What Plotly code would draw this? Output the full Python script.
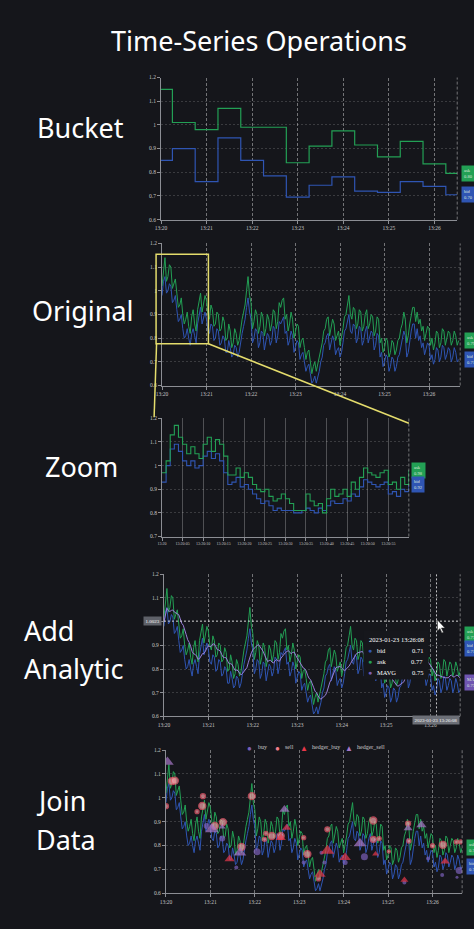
import numpy as np
import pandas as pd
import plotly.graph_objects as go

W, H = 474, 929
BG = '#15161b'
GREEN = '#23a055'
BLUE = '#2f55b3'
MAVG_C = '#9a80d8'
SERIF = 'Liberation Serif'
SANS = 'Noto Sans'
T0 = pd.Timestamp('2023-01-23 13:20:00')

# ---------------- data ----------------
bucket_ask = [1.15, 1.01, 0.98, 1.07, 0.99, 0.99, 0.84, 0.91, 0.975, 0.915, 0.865, 0.93, 0.835, 0.795]
bucket_bid = [0.85, 0.90, 0.76, 0.945, 0.85, 0.785, 0.695, 0.745, 0.78, 0.72, 0.715, 0.76, 0.74, 0.705]

# tick data, one value every 2 s from 13:20:00
ask = [1.02, 1.10, 1.14, 1.04, 1.06, 1.11, 1.10, 1.01, 1.03, 1.05,
       0.99, 0.93, 0.94, 0.97, 0.90, 0.86, 0.88, 0.91, 0.85, 0.82,
       0.89, 0.92, 0.86, 0.83, 0.92, 0.96, 0.99, 0.91, 0.94, 0.98,
       0.96, 0.90, 0.88, 0.94, 0.92, 0.85, 0.86, 0.91, 0.90, 0.83,
       0.84, 0.89, 0.87, 0.79, 0.80, 0.86, 0.83, 0.76, 0.78, 0.84,
       0.82, 0.77, 0.79, 0.85, 0.88, 0.91, 0.94, 1.00, 1.06, 0.98,
       0.95, 0.84, 0.87, 0.92, 0.90, 0.82, 0.85, 0.91, 0.89, 0.81,
       0.84, 0.90, 0.88, 0.83, 0.86, 0.92, 0.91, 0.84, 0.87, 0.95,
       0.93, 0.96, 0.97, 0.88, 0.90, 0.83, 0.86, 0.91, 0.88, 0.80,
       0.83, 0.86, 0.85, 0.76, 0.79, 0.80, 0.76, 0.71, 0.74, 0.75,
       0.70, 0.65, 0.68, 0.70, 0.66, 0.69, 0.72, 0.76, 0.78, 0.83,
       0.84, 0.88, 0.89, 0.81, 0.84, 0.88, 0.86, 0.79, 0.81, 0.83,
       0.77, 0.80, 0.84, 0.89, 0.90, 0.94, 0.98, 0.90, 0.88, 0.93,
       0.92, 0.84, 0.86, 0.92, 0.91, 0.83, 0.85, 0.90, 0.92, 0.84,
       0.86, 0.90, 0.89, 0.81, 0.83, 0.89, 0.88, 0.78, 0.80, 0.74,
       0.76, 0.80, 0.79, 0.72, 0.74, 0.79, 0.78, 0.73, 0.75, 0.79,
       0.80, 0.84, 0.86, 0.91, 0.88, 0.78, 0.81, 0.86, 0.90, 0.93,
       0.93, 0.87, 0.91, 0.86, 0.88, 0.83, 0.85, 0.79, 0.82, 0.85,
       0.84, 0.77, 0.80, 0.75, 0.78, 0.83, 0.82, 0.76, 0.78, 0.84,
       0.83, 0.77, 0.80, 0.83, 0.82, 0.77, 0.79, 0.83, 0.81, 0.77,
       0.79]
bid = [0.98, 1.04, 1.06, 0.99, 1.00, 1.03, 1.02, 0.95, 0.96, 0.98,
       0.92, 0.87, 0.88, 0.90, 0.84, 0.80, 0.81, 0.84, 0.80, 0.77,
       0.82, 0.84, 0.81, 0.78, 0.86, 0.90, 0.93, 0.86, 0.89, 0.91,
       0.88, 0.83, 0.82, 0.86, 0.85, 0.79, 0.80, 0.84, 0.83, 0.77,
       0.78, 0.81, 0.80, 0.74, 0.74, 0.79, 0.76, 0.72, 0.73, 0.77,
       0.76, 0.72, 0.74, 0.79, 0.82, 0.85, 0.88, 0.93, 0.97, 0.91,
       0.88, 0.78, 0.80, 0.84, 0.83, 0.76, 0.78, 0.83, 0.82, 0.75,
       0.78, 0.82, 0.81, 0.77, 0.79, 0.85, 0.84, 0.78, 0.81, 0.87,
       0.86, 0.88, 0.89, 0.82, 0.83, 0.77, 0.79, 0.83, 0.81, 0.74,
       0.77, 0.79, 0.78, 0.71, 0.73, 0.74, 0.70, 0.66, 0.68, 0.69,
       0.65, 0.61, 0.62, 0.64, 0.61, 0.63, 0.66, 0.70, 0.72, 0.77,
       0.78, 0.81, 0.82, 0.75, 0.78, 0.81, 0.79, 0.73, 0.75, 0.76,
       0.72, 0.74, 0.78, 0.83, 0.84, 0.87, 0.90, 0.83, 0.82, 0.86,
       0.85, 0.78, 0.80, 0.85, 0.84, 0.77, 0.79, 0.83, 0.85, 0.78,
       0.80, 0.83, 0.82, 0.75, 0.77, 0.82, 0.81, 0.72, 0.74, 0.68,
       0.70, 0.73, 0.72, 0.66, 0.68, 0.72, 0.71, 0.66, 0.68, 0.72,
       0.73, 0.77, 0.79, 0.83, 0.81, 0.72, 0.74, 0.79, 0.83, 0.86,
       0.86, 0.80, 0.84, 0.79, 0.81, 0.76, 0.78, 0.73, 0.75, 0.78,
       0.77, 0.71, 0.73, 0.69, 0.71, 0.76, 0.75, 0.70, 0.72, 0.77,
       0.76, 0.71, 0.73, 0.76, 0.75, 0.70, 0.72, 0.76, 0.74, 0.70,
       0.71]

zoom_ask = [0.97, 1.02, 1.13, 1.17, 1.12, 1.09, 1.05, 1.08, 1.05, 1.03, 1.09, 1.12, 1.06, 1.11, 1.09,
            1.04, 0.96, 0.96, 0.99, 0.95, 0.97, 0.95, 0.92, 0.90, 0.89, 0.90, 0.87, 0.85, 0.86, 0.88,
            0.86, 0.84, 0.81, 0.81, 0.81, 0.88, 0.85, 0.83, 0.84, 0.80, 0.86, 0.90, 0.87, 0.88, 0.90,
            0.87, 0.93, 0.90, 0.95, 0.99, 0.97, 0.96, 0.95, 0.97, 0.98, 0.92, 0.93, 0.90, 0.95, 0.92, 0.98]
zoom_bid = [0.93, 1.00, 1.07, 1.09, 1.06, 1.02, 1.00, 1.02, 0.99, 1.00, 1.04, 1.06, 1.03, 1.05, 1.02,
            0.97, 0.92, 0.93, 0.95, 0.91, 0.92, 0.90, 0.88, 0.86, 0.84, 0.85, 0.83, 0.81, 0.82, 0.81,
            0.81, 0.81, 0.80, 0.80, 0.81, 0.82, 0.81, 0.80, 0.82, 0.81, 0.83, 0.85, 0.84, 0.84, 0.86,
            0.85, 0.88, 0.87, 0.91, 0.94, 0.93, 0.92, 0.91, 0.92, 0.93, 0.88, 0.89, 0.87, 0.90, 0.89, 0.92]
zoom_tick_labels = ['13:20', '13:20:05', '13:20:10', '13:20:15', '13:20:20', '13:20:25', '13:20:30',
                    '13:20:35', '13:20:40', '13:20:45', '13:20:50', '13:20:55']

# join data (seconds after 13:20:00, price, size)
buy_t = [55, 76, 95, 123, 186, 210, 214, 242, 268, 322, 354, 373, 393, 396]
buy_v = [0.882, 0.829, 0.708, 0.774, 0.729, 0.77, 0.729, 0.729, 0.753, 0.645, 0.746, 0.676, 0.667, 0.695]
buy_s = [6, 6, 4, 7, 4, 4, 4, 5, 7, 4, 4, 4, 3, 7]
sell_t = [0, 8, 12, 42, 49, 50, 66, 77, 102, 116, 133, 135, 143, 155, 186, 191, 206, 218, 280, 280,
          288, 301, 327, 328, 360, 374, 392, 398]
sell_v = [0.965, 1.07, 1.072, 0.942, 0.966, 1.007, 0.882, 0.898, 0.794, 1.007, 0.826, 0.851, 0.84, 0.84,
          0.833, 0.764, 0.66, 0.868, 0.905, 0.826, 0.829, 0.775, 0.892, 0.819, 0.799, 0.803, 0.815, 0.815]
sell_s = [5, 7, 7, 4, 7, 5, 7, 7, 7, 7, 4, 4, 7, 7, 4, 7, 4, 5, 7, 6, 4, 3, 5, 4, 4, 7, 4, 4]
hbuy_t = [86, 155, 163, 208, 218, 242, 283, 322, 377]
hbuy_v = [0.743, 0.833, 0.875, 0.68, 0.778, 0.75, 0.764, 0.655, 0.733]
hbuy_s = [9, 9, 8, 10, 12, 10, 6, 7, 8]
hsell_t = [2, 62, 76, 100, 160, 262, 327, 345]
hsell_v = [1.15, 0.868, 0.878, 0.77, 0.951, 0.808, 0.872, 0.886]
hsell_s = [11, 12, 6, 11, 9, 11, 8, 9]

tooltip_time = '2023-01-23 13:26:08'
tooltip_names = ['bid', 'ask', 'MAVG']
tooltip_values = ['0.71', '0.77', '0.75']
crosshair_value = 1.0023

# ---------------- derived ----------------
bucket_times = pd.date_range(T0, periods=len(bucket_ask), freq='30s')
times = pd.date_range(T0, periods=len(ask), freq='2s')
zoom_times = pd.date_range(T0, periods=len(zoom_ask), freq='1s')
mavg = ((pd.Series(ask) + pd.Series(bid)) / 2).rolling(10, min_periods=1).mean()


def ts(secs):
    return [T0 + pd.Timedelta(seconds=s) for s in secs]


def fx(x):
    return x / W


def fy(y):
    return 1 - y / H


def tstr(s):
    return (T0 + pd.Timedelta(seconds=s)).strftime('%Y-%m-%d %H:%M:%S')


panels = [
    dict(px=(157, 457), py=(75, 218), xr=(0, 390), yr=(0.6, 1.2)),
    dict(px=(158, 460), py=(242, 385), xr=(0, 402), yr=(0.6, 1.2)),
    dict(px=(158, 408), py=(418, 537), xr=(0, 60), yr=(0.7, 1.2)),
    dict(px=(160, 460), py=(575, 718), xr=(0, 400), yr=(0.6, 1.2)),
    dict(px=(162, 462), py=(752, 896), xr=(0, 400), yr=(0.6, 1.2)),
]

fig = go.Figure()
layout = {}
shapes = []
annotations = []
GRIDV = 'rgba(255,255,255,0.40)'

for i, p in enumerate(panels, start=1):
    sx = '' if i == 1 else str(i)
    xa = dict(domain=[fx(p['px'][0]), fx(p['px'][1])], anchor='y' + sx,
              range=[tstr(p['xr'][0]), tstr(p['xr'][1])], type='date',
              showgrid=True, gridcolor=GRIDV, griddash='3px,2px', gridwidth=1,
              showline=True, linecolor='#8c8e94', linewidth=1, ticks='outside', ticklen=3,
              tickcolor='#8c8e94', tickfont=dict(family=SERIF, size=5.5, color='#c4c4c4'),
              zeroline=False, fixedrange=True)
    if i == 3:
        xa.update(tickmode='array', tickvals=pd.date_range(T0, periods=len(zoom_tick_labels), freq='5s'),
                  ticktext=zoom_tick_labels, tickfont=dict(family=SERIF, size=4, color='#c4c4c4'),
                  griddash='solid', gridcolor='rgba(255,255,255,0.25)')
    else:
        xa.update(tick0=tstr(0), dtick=60000, tickformat='%H:%M')
    ya = dict(domain=[fy(p['py'][1]), fy(p['py'][0])], anchor='x' + sx, range=list(p['yr']),
              dtick=0.1, tick0=0.6, showgrid=True, gridcolor='rgba(255,255,255,0.16)', griddash='2px,2px',
              showline=True, linecolor='#8c8e94', linewidth=1, ticks='outside', ticklen=3,
              tickcolor='#8c8e94', tickfont=dict(family=SERIF, size=5.5, color='#c4c4c4'),
              zeroline=False, fixedrange=True)
    layout['xaxis' + sx] = xa
    layout['yaxis' + sx] = ya
    shapes.append(dict(type='line', xref='paper', yref='paper', x0=fx(p['px'][1]), x1=fx(p['px'][1]),
                       y0=fy(p['py'][1]), y1=fy(p['py'][0]),
                       line=dict(color=GRIDV, width=1, dash='3px,2px')))

line_kw = dict(mode='lines', showlegend=False, hoverinfo='skip')

fig.add_trace(go.Scatter(x=bucket_times, y=bucket_bid, line=dict(color=BLUE, width=1.2, shape='hvh'),
                         xaxis='x', yaxis='y', **line_kw))
fig.add_trace(go.Scatter(x=bucket_times, y=bucket_ask, line=dict(color=GREEN, width=1.2, shape='hvh'),
                         xaxis='x', yaxis='y', **line_kw))
for ax in ['2', '4', '5']:
    fig.add_trace(go.Scatter(x=times, y=bid, line=dict(color=BLUE, width=1), xaxis='x' + ax, yaxis='y' + ax,
                             **line_kw))
    fig.add_trace(go.Scatter(x=times, y=ask, line=dict(color=GREEN, width=1), xaxis='x' + ax, yaxis='y' + ax,
                             **line_kw))
    if ax == '4':
        fig.add_trace(go.Scatter(x=times, y=mavg, line=dict(color=MAVG_C, width=1), xaxis='x4', yaxis='y4',
                                 **line_kw))
fig.add_trace(go.Scatter(x=zoom_times, y=zoom_bid, line=dict(color=BLUE, width=1.1, shape='hv'),
                         xaxis='x3', yaxis='y3', **line_kw))
fig.add_trace(go.Scatter(x=zoom_times, y=zoom_ask, line=dict(color=GREEN, width=1.1, shape='hv'),
                         xaxis='x3', yaxis='y3', **line_kw))
mk = dict(mode='markers', showlegend=False, hoverinfo='skip', xaxis='x5', yaxis='y5')
fig.add_trace(go.Scatter(x=ts(buy_t), y=buy_v, marker=dict(color='#7a5fb8', size=buy_s, symbol='circle',
                                                            line=dict(width=0)), **mk))
fig.add_trace(go.Scatter(x=ts(sell_t), y=sell_v, marker=dict(color='#f7a3ab', size=sell_s, symbol='circle',
                                                              line=dict(color='#ef5a6d', width=1.3)), **mk))
fig.add_trace(go.Scatter(x=ts(hbuy_t), y=hbuy_v, marker=dict(color='#e8384b', size=hbuy_s, symbol='triangle-up',
                                                              line=dict(width=0)), **mk))
fig.add_trace(go.Scatter(x=ts(hsell_t), y=hsell_v, marker=dict(color='#a877c9', size=hsell_s, symbol='triangle-up',
                                                                line=dict(width=0)), **mk))


def ann(**kw):
    base = dict(showarrow=False, xanchor='center', yanchor='middle')
    base.update(kw)
    annotations.append(base)


def end_label(xref, yref, x, y, name, val, color, xshift=4):
    ann(xref=xref, yref=yref, x=x, y=y, xanchor='left', xshift=xshift,
        text=f'{name}<br>{val:.2f}', align='left',
        font=dict(family=SERIF, size=4.5, color='#dfe8df'), bgcolor=color, borderpad=2)


end_label('x', 'y', bucket_times[-1], bucket_ask[-1], 'ask', bucket_ask[-1], GREEN)
end_label('x', 'y', bucket_times[-1], bucket_bid[-1], 'bid', bucket_bid[-1], BLUE)
end_label('x2', 'y2', times[-1], ask[-1], 'ask', ask[-1], GREEN, 5)
end_label('x2', 'y2', times[-1], bid[-1], 'bid', bid[-1], BLUE, 5)
end_label('x3', 'y3', zoom_times[-1], zoom_ask[-1], 'ask', zoom_ask[-1], GREEN, 2)
end_label('x3', 'y3', zoom_times[-1], zoom_bid[-1], 'bid', zoom_bid[-1], BLUE, 2)
end_label('x5', 'y5', times[-1], ask[-1], 'ask', ask[-1], GREEN, 4)
end_label('x5', 'y5', times[-1], bid[-1], 'bid', bid[-1], BLUE, 4)
end_label('paper', 'paper', fx(460), fy(636), 'ask', 0.77, GREEN)
end_label('paper', 'paper', fx(460), fy(650), 'bid', 0.71, BLUE)
end_label('paper', 'paper', fx(460), fy(684), 'MAVG', 0.75, '#6f55b0')

YEL = '#e4dc6c'
shapes.append(dict(type='rect', xref='paper', yref='paper', x0=fx(152), x1=fx(205), y0=fy(343), y1=fy(253),
                   line=dict(color=YEL, width=1.5)))
shapes.append(dict(type='line', xref='paper', yref='paper', x0=fx(152.5), y0=fy(343), x1=fx(150), y1=fy(417),
                   line=dict(color=YEL, width=1.5)))
shapes.append(dict(type='line', xref='paper', yref='paper', x0=fx(205), y0=fy(343), x1=fx(408), y1=fy(423),
                   line=dict(color=YEL, width=1.5)))

shapes.append(dict(type='line', xref='paper', yref='y4', x0=fx(160), x1=fx(460), y0=crosshair_value,
                   y1=crosshair_value, line=dict(color='rgba(255,255,255,0.75)', width=1, dash='2px,2px')))
shapes.append(dict(type='line', xref='x4', yref='paper', x0=tooltip_time, x1=tooltip_time, y0=fy(718), y1=fy(575),
                   line=dict(color='rgba(255,255,255,0.75)', width=1, dash='2px,2px')))
ann(xref='paper', yref='y4', x=fx(148), y=crosshair_value, text=f'{crosshair_value:.4f}',
    font=dict(family=SERIF, size=5, color='white'), bgcolor='#5e6169', borderpad=1.5)
ann(xref='x4', yref='paper', x=tooltip_time, y=fy(722), text=tooltip_time,
    font=dict(family=SERIF, size=5, color='white'), bgcolor='#6c6f77', borderpad=1.5)

shapes.append(dict(type='rect', xref='paper', yref='paper', x0=fx(362), x1=fx(428), y0=fy(681), y1=fy(632),
                   fillcolor='#16171c', line=dict(width=0), layer='above'))
ann(xref='paper', yref='paper', x=fx(395), y=fy(641), text=tooltip_time,
    font=dict(family=SERIF, size=6.5, color='white'))
for k, (nm, val, col) in enumerate(zip(tooltip_names, tooltip_values, [BLUE, GREEN, '#7a5fb8'])):
    yy = fy(652 + 11 * k)
    ann(xref='paper', yref='paper', x=fx(369), y=yy, text='●', font=dict(size=7, color=col))
    ann(xref='paper', yref='paper', x=fx(374), y=yy, text=nm, xanchor='left',
        font=dict(family=SERIF, size=6.5, color='white'))
    ann(xref='paper', yref='paper', x=fx(424), y=yy, text=val, xanchor='right',
        font=dict(family=SERIF, size=6.5, color='white'))

cur = [(437, 621), (437, 632), (439.5, 629.5), (441.5, 634), (443, 633.3), (441, 629), (444.5, 629)]
path = 'M ' + ' L '.join(f'{fx(a):.5f},{fy(b):.5f}' for a, b in cur) + ' Z'
shapes.append(dict(type='path', xref='paper', yref='paper', path=path, fillcolor='white',
                   line=dict(color='#333', width=0.5), layer='above'))

leg = [('●', '#7a5fb8', 'buy', 247), ('●', '#f27d8b', 'sell', 275), ('▲', '#e8384b', 'hedger_buy', 302),
       ('▲', '#a877c9', 'hedger_sell', 347)]
for sym, col, nm, xx in leg:
    ann(xref='paper', yref='paper', x=fx(xx), y=fy(749), text=sym, font=dict(size=8, color=col))
    ann(xref='paper', yref='paper', x=fx(xx + 6), y=fy(749), text=nm, xanchor='left',
        font=dict(family=SERIF, size=6, color='#c8c8c8'))

ann(xref='paper', yref='paper', x=fx(256), y=fy(38), text='Time-Series Operations',
    font=dict(family=SANS, size=27, color='white'))
for txt, xx, yy, anc in [('Bucket', 75, 125, 'center'), ('Original', 78, 310, 'center'),
                         ('Zoom', 76, 467, 'center'), ('Add', 16, 632, 'left'), ('Analytic', 16, 670, 'left'),
                         ('Join', 28, 803, 'left'), ('Data', 28, 842, 'left')]:
    ann(xref='paper', yref='paper', x=fx(xx), y=fy(yy), text=txt, xanchor=anc,
        font=dict(family=SANS, size=27, color='white'))

fig.update_layout(width=W, height=H, margin=dict(l=0, r=0, t=0, b=0), paper_bgcolor=BG, plot_bgcolor=BG,
                  showlegend=False, shapes=shapes, annotations=annotations, **layout)
fig.write_html('out.html', config=dict(displayModeBar=False),
               post_script="document.body.style.margin='0';document.body.style.background='%s';"
                           "document.body.style.overflow='hidden';" % BG)
